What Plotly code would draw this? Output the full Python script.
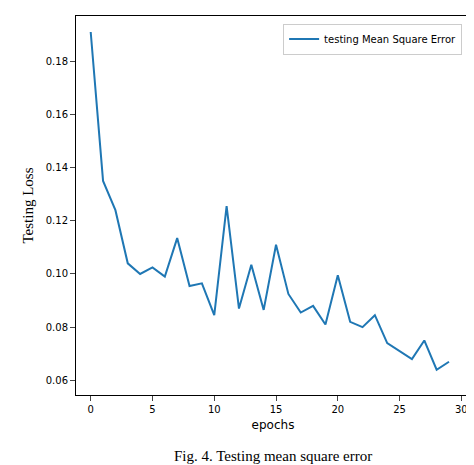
import plotly.graph_objects as go

epochs = list(range(30))
loss = [0.191, 0.135, 0.124, 0.104, 0.100, 0.1025, 0.099, 0.1135, 0.0955, 0.0965,
        0.0845, 0.1255, 0.087, 0.1035, 0.0865, 0.111, 0.0925, 0.0855, 0.088, 0.081,
        0.0995, 0.082, 0.080, 0.0845, 0.074, 0.071, 0.068, 0.075, 0.064, 0.067]
yticks = [0.06, 0.08, 0.10, 0.12, 0.14, 0.16, 0.18]

fig = go.Figure(go.Scatter(x=epochs, y=loss, mode="lines", line=dict(color="#1f77b4", width=2),
                           name="testing Mean Square Error"))
fig.update_layout(
    width=474, height=465, plot_bgcolor="white", paper_bgcolor="white",
    margin=dict(l=68, r=12, t=8, b=78),
    font=dict(family="DejaVu Sans", size=10, color="black"),
    showlegend=True,
    legend=dict(x=0.98, y=0.98, xanchor="right", yanchor="top", bordercolor="#cccccc",
                borderwidth=1, font=dict(size=10)),
    xaxis=dict(range=[-1.19, 30.7], tickvals=[0, 5, 10, 15, 20, 25, 30], showgrid=False,
               showline=True, linecolor="black", mirror=True, ticks="outside", zeroline=False,
               title=dict(text="epochs", standoff=6)),
    yaxis=dict(range=[0.0545, 0.197], tickvals=yticks, tickformat=".2f", showgrid=False,
               showline=True, linecolor="black", mirror=True, ticks="outside", zeroline=False,
               title=dict(text="Testing Loss", font=dict(family="Liberation Serif", size=15), standoff=8)),
)
fig.add_annotation(text="Fig. 4. Testing mean square error", xref="paper", yref="paper",
                   x=0.5, y=-0.135, yanchor="top", showarrow=False,
                   font=dict(family="Liberation Serif", size=15))
fig.write_html("out.html")
